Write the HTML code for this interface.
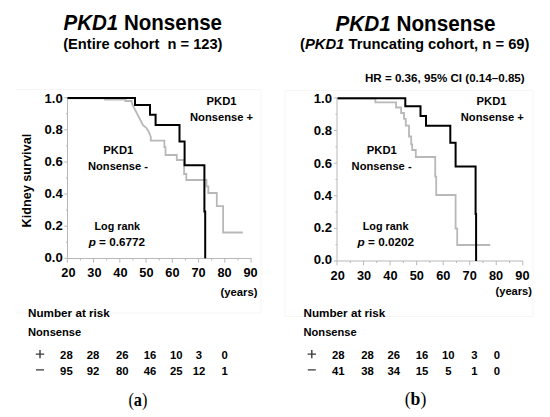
<!DOCTYPE html>
<html><head><meta charset="utf-8"><style>html,body{margin:0;padding:0;width:550px;height:417px;overflow:hidden;background:#fff}</style></head><body>
<svg width="550" height="417" viewBox="0 0 550 417" style="position:absolute;left:0;top:0">
<rect width="550" height="417" fill="#fff"/>
<path d="M15.5,89.5 H261 V313 H15.5" fill="none" stroke="#f6f6f6" stroke-width="1"/>
<path d="M285,316.5 V90.5 H533 V316.5 H285" fill="none" stroke="#f6f6f6" stroke-width="1"/>
<text x="63.5" y="30" font-size="21.6" font-family="Liberation Sans" font-weight="bold" fill="#000" textLength="158.5" lengthAdjust="spacingAndGlyphs"><tspan font-style="italic">PKD1</tspan> Nonsense</text>
<text x="63.2" y="48.9" font-size="15" font-family="Liberation Sans" font-weight="bold" fill="#000" textLength="159.3" lengthAdjust="spacingAndGlyphs" style="white-space:pre">(Entire cohort  n = 123)</text>
<path d="M67.5,97.7 V258.5 H251.5" fill="none" stroke="#b8b8b8" stroke-width="1"/>
<path d="M64.3,258.30 H67.5 M66.0,242.24 H67.5 M64.3,226.18 H67.5 M66.0,210.12 H67.5 M64.3,194.06 H67.5 M66.0,178.00 H67.5 M64.3,161.94 H67.5 M66.0,145.88 H67.5 M64.3,129.82 H67.5 M66.0,113.76 H67.5 M64.3,97.70 H67.5 M67.30,258.5 V262.8 M80.43,258.5 V260.5 M93.56,258.5 V262.8 M106.69,258.5 V260.5 M119.81,258.5 V262.8 M132.94,258.5 V260.5 M146.07,258.5 V262.8 M159.20,258.5 V260.5 M172.33,258.5 V262.8 M185.46,258.5 V260.5 M198.59,258.5 V262.8 M211.71,258.5 V260.5 M224.84,258.5 V262.8 M237.97,258.5 V260.5 M251.10,258.5 V262.8 " fill="none" stroke="#b8b8b8" stroke-width="1"/>
<path d="M67.5,98.4 H105 V99.6 H125.5 V101 H131.6 L132.2,104.2 L143,125.2 L146.3,127.8 L148.8,132 L150.8,137 V140.7 H164.4 V147 H165.5 V155 H176.8 V160 H184.1 V174 H186.3 V180 H206.5 V186.4 H208.3 V193 H216.8 V206.1 H223.1 V232.5 H242.8" fill="none" stroke="#b8b8b8" stroke-width="1.8"/>
<path d="M67.5,98 H135 V105 H150 V114.7 H155.6 V124.9 H179.5 V141.5 H184.6 V165.2 H204.4 V211.6 H205.2 V258.3" fill="none" stroke="#000" stroke-width="2"/>
<text x="62.8" y="102.5" font-size="12.3" text-anchor="end" font-weight="bold" font-style="normal" font-family="Liberation Sans" fill="#000" textLength="18.3" lengthAdjust="spacingAndGlyphs">1.0</text>
<text x="62.8" y="134.4" font-size="12.3" text-anchor="end" font-weight="bold" font-style="normal" font-family="Liberation Sans" fill="#000" textLength="18.3" lengthAdjust="spacingAndGlyphs">0.8</text>
<text x="62.8" y="166.3" font-size="12.3" text-anchor="end" font-weight="bold" font-style="normal" font-family="Liberation Sans" fill="#000" textLength="18.3" lengthAdjust="spacingAndGlyphs">0.6</text>
<text x="62.8" y="198.2" font-size="12.3" text-anchor="end" font-weight="bold" font-style="normal" font-family="Liberation Sans" fill="#000" textLength="18.3" lengthAdjust="spacingAndGlyphs">0.4</text>
<text x="62.8" y="230.1" font-size="12.3" text-anchor="end" font-weight="bold" font-style="normal" font-family="Liberation Sans" fill="#000" textLength="18.3" lengthAdjust="spacingAndGlyphs">0.2</text>
<text x="62.8" y="262.0" font-size="12.3" text-anchor="end" font-weight="bold" font-style="normal" font-family="Liberation Sans" fill="#000" textLength="18.3" lengthAdjust="spacingAndGlyphs">0.0</text>
<text x="68.4" y="276.7" font-size="12" text-anchor="middle" font-weight="bold" font-style="normal" font-family="Liberation Sans" fill="#000" textLength="14.2" lengthAdjust="spacingAndGlyphs">20</text>
<text x="94.42" y="276.7" font-size="12" text-anchor="middle" font-weight="bold" font-style="normal" font-family="Liberation Sans" fill="#000" textLength="14.2" lengthAdjust="spacingAndGlyphs">30</text>
<text x="120.44" y="276.7" font-size="12" text-anchor="middle" font-weight="bold" font-style="normal" font-family="Liberation Sans" fill="#000" textLength="14.2" lengthAdjust="spacingAndGlyphs">40</text>
<text x="146.46" y="276.7" font-size="12" text-anchor="middle" font-weight="bold" font-style="normal" font-family="Liberation Sans" fill="#000" textLength="14.2" lengthAdjust="spacingAndGlyphs">50</text>
<text x="172.48" y="276.7" font-size="12" text-anchor="middle" font-weight="bold" font-style="normal" font-family="Liberation Sans" fill="#000" textLength="14.2" lengthAdjust="spacingAndGlyphs">60</text>
<text x="198.5" y="276.7" font-size="12" text-anchor="middle" font-weight="bold" font-style="normal" font-family="Liberation Sans" fill="#000" textLength="14.2" lengthAdjust="spacingAndGlyphs">70</text>
<text x="224.52" y="276.7" font-size="12" text-anchor="middle" font-weight="bold" font-style="normal" font-family="Liberation Sans" fill="#000" textLength="14.2" lengthAdjust="spacingAndGlyphs">80</text>
<text x="250.54" y="276.7" font-size="12" text-anchor="middle" font-weight="bold" font-style="normal" font-family="Liberation Sans" fill="#000" textLength="14.2" lengthAdjust="spacingAndGlyphs">90</text>
<text transform="translate(30.6,180.6) rotate(-90)" x="0" y="0" font-size="13" text-anchor="middle" font-family="Liberation Sans" font-weight="bold" fill="#000" textLength="93.6" lengthAdjust="spacingAndGlyphs">Kidney survival</text>
<text x="221.6" y="105.2" font-size="11.6" text-anchor="middle" font-weight="bold" font-style="normal" font-family="Liberation Sans" fill="#000" textLength="30" lengthAdjust="spacingAndGlyphs">PKD1</text>
<text x="190" y="120.6" font-size="11.6" text-anchor="start" font-weight="bold" font-style="normal" font-family="Liberation Sans" fill="#000" textLength="63" lengthAdjust="spacingAndGlyphs">Nonsense +</text>
<text x="118.3" y="153.9" font-size="11.6" text-anchor="middle" font-weight="bold" font-style="normal" font-family="Liberation Sans" fill="#000" textLength="30" lengthAdjust="spacingAndGlyphs">PKD1</text>
<text x="88" y="170" font-size="11.6" text-anchor="start" font-weight="bold" font-style="normal" font-family="Liberation Sans" fill="#000" textLength="60" lengthAdjust="spacingAndGlyphs">Nonsense -</text>
<text x="94.5" y="229.6" font-size="11.5" text-anchor="start" font-weight="bold" font-style="normal" font-family="Liberation Sans" fill="#000" textLength="45.5" lengthAdjust="spacingAndGlyphs">Log rank</text>
<text x="88.7" y="245.5" font-size="11.5" font-family="Liberation Sans" font-weight="bold" fill="#000" textLength="56.3" lengthAdjust="spacingAndGlyphs" style="white-space:pre"><tspan font-style="italic">p</tspan> = 0.6772</text>
<text x="220.5" y="295.5" font-size="11" text-anchor="start" font-weight="bold" font-style="normal" font-family="Liberation Sans" fill="#000" textLength="37" lengthAdjust="spacingAndGlyphs">(years)</text>
<text x="28" y="317.3" font-size="11.8" text-anchor="start" font-weight="bold" font-style="normal" font-family="Liberation Sans" fill="#000" textLength="81.8" lengthAdjust="spacingAndGlyphs">Number at risk</text>
<text x="28" y="335.7" font-size="11.8" text-anchor="start" font-weight="bold" font-style="normal" font-family="Liberation Sans" fill="#000" textLength="53.2" lengthAdjust="spacingAndGlyphs">Nonsense</text>
<path d="M35.8,354.1 H44.2 M40,349.90000000000003 V358.3 M36,369.9 H44" stroke="#3a3a3a" stroke-width="1.4" fill="none"/>
<text x="66.4" y="359.3" font-size="11.3" text-anchor="middle" font-weight="bold" font-style="normal" font-family="Liberation Sans" fill="#000">28</text>
<text x="66.4" y="374.8" font-size="11.3" text-anchor="middle" font-weight="bold" font-style="normal" font-family="Liberation Sans" fill="#000">95</text>
<text x="93" y="359.3" font-size="11.3" text-anchor="middle" font-weight="bold" font-style="normal" font-family="Liberation Sans" fill="#000">28</text>
<text x="93" y="374.8" font-size="11.3" text-anchor="middle" font-weight="bold" font-style="normal" font-family="Liberation Sans" fill="#000">92</text>
<text x="122.3" y="359.3" font-size="11.3" text-anchor="middle" font-weight="bold" font-style="normal" font-family="Liberation Sans" fill="#000">26</text>
<text x="122.3" y="374.8" font-size="11.3" text-anchor="middle" font-weight="bold" font-style="normal" font-family="Liberation Sans" fill="#000">80</text>
<text x="150" y="359.3" font-size="11.3" text-anchor="middle" font-weight="bold" font-style="normal" font-family="Liberation Sans" fill="#000">16</text>
<text x="150" y="374.8" font-size="11.3" text-anchor="middle" font-weight="bold" font-style="normal" font-family="Liberation Sans" fill="#000">46</text>
<text x="176.3" y="359.3" font-size="11.3" text-anchor="middle" font-weight="bold" font-style="normal" font-family="Liberation Sans" fill="#000">10</text>
<text x="176.3" y="374.8" font-size="11.3" text-anchor="middle" font-weight="bold" font-style="normal" font-family="Liberation Sans" fill="#000">25</text>
<text x="199" y="359.3" font-size="11.3" text-anchor="middle" font-weight="bold" font-style="normal" font-family="Liberation Sans" fill="#000">3</text>
<text x="199" y="374.8" font-size="11.3" text-anchor="middle" font-weight="bold" font-style="normal" font-family="Liberation Sans" fill="#000">12</text>
<text x="224.7" y="359.3" font-size="11.3" text-anchor="middle" font-weight="bold" font-style="normal" font-family="Liberation Sans" fill="#000">0</text>
<text x="224.7" y="374.8" font-size="11.3" text-anchor="middle" font-weight="bold" font-style="normal" font-family="Liberation Sans" fill="#000">1</text>
<text x="137.9" y="405.5" font-size="18" text-anchor="middle" font-family="Liberation Serif" fill="#000" textLength="19" lengthAdjust="spacingAndGlyphs">(<tspan font-weight="bold">a</tspan>)</text>
<text x="335.5" y="30.8" font-size="21.6" font-family="Liberation Sans" font-weight="bold" fill="#000" textLength="160" lengthAdjust="spacingAndGlyphs"><tspan font-style="italic">PKD1</tspan> Nonsense</text>
<text x="300" y="49.3" font-size="15" font-family="Liberation Sans" font-weight="bold" fill="#000" textLength="229.5" lengthAdjust="spacingAndGlyphs">(<tspan font-style="italic">PKD1</tspan> Truncating cohort, n = 69)</text>
<text x="364.9" y="82.4" font-size="11.8" text-anchor="start" font-weight="bold" font-style="normal" font-family="Liberation Sans" fill="#000" textLength="159.8" lengthAdjust="spacingAndGlyphs">HR = 0.36, 95% CI (0.14–0.85)</text>
<path d="M337,97.9 V261 H523" fill="none" stroke="#b8b8b8" stroke-width="1"/>
<path d="M333.8,261.00 H337 M335.5,244.69 H337 M333.8,228.38 H337 M335.5,212.07 H337 M333.8,195.76 H337 M335.5,179.45 H337 M333.8,163.14 H337 M335.5,146.83 H337 M333.8,130.52 H337 M335.5,114.21 H337 M333.8,97.90 H337 M337.00,261 V265.3 M350.27,261 V263 M363.54,261 V265.3 M376.81,261 V263 M390.09,261 V265.3 M403.36,261 V263 M416.63,261 V265.3 M429.90,261 V263 M443.17,261 V265.3 M456.44,261 V263 M469.71,261 V265.3 M482.99,261 V263 M496.26,261 V265.3 M509.53,261 V263 M522.80,261 V265.3 " fill="none" stroke="#b8b8b8" stroke-width="1"/>
<path d="M337.5,98.6 H375.4 V102.4 H396.1 V107.5 H401.1 V113 H404 V118.9 H405.8 V125.6 H409 V136.5 H411.2 V144.3 H412.2 V150 H415.8 V157 H435.2 V176.7 H436.2 V195 H455.6 V228.5 H457.2 V245 H490.2" fill="none" stroke="#b8b8b8" stroke-width="1.8"/>
<path d="M337.5,98.2 H405.3 V106.2 H420.5 V116 H426 V125.8 H450.3 V142.8 H455.6 V166.6 H475.6 V214 H476.1 V261" fill="none" stroke="#000" stroke-width="2"/>
<text x="332" y="103.0" font-size="12.3" text-anchor="end" font-weight="bold" font-style="normal" font-family="Liberation Sans" fill="#000" textLength="18.3" lengthAdjust="spacingAndGlyphs">1.0</text>
<text x="332" y="135.26" font-size="12.3" text-anchor="end" font-weight="bold" font-style="normal" font-family="Liberation Sans" fill="#000" textLength="18.3" lengthAdjust="spacingAndGlyphs">0.8</text>
<text x="332" y="167.52" font-size="12.3" text-anchor="end" font-weight="bold" font-style="normal" font-family="Liberation Sans" fill="#000" textLength="18.3" lengthAdjust="spacingAndGlyphs">0.6</text>
<text x="332" y="199.78" font-size="12.3" text-anchor="end" font-weight="bold" font-style="normal" font-family="Liberation Sans" fill="#000" textLength="18.3" lengthAdjust="spacingAndGlyphs">0.4</text>
<text x="332" y="232.04" font-size="12.3" text-anchor="end" font-weight="bold" font-style="normal" font-family="Liberation Sans" fill="#000" textLength="18.3" lengthAdjust="spacingAndGlyphs">0.2</text>
<text x="332" y="264.3" font-size="12.3" text-anchor="end" font-weight="bold" font-style="normal" font-family="Liberation Sans" fill="#000" textLength="18.3" lengthAdjust="spacingAndGlyphs">0.0</text>
<text x="337.65" y="279.5" font-size="12" text-anchor="middle" font-weight="bold" font-style="normal" font-family="Liberation Sans" fill="#000" textLength="14.2" lengthAdjust="spacingAndGlyphs">20</text>
<text x="364.05" y="279.5" font-size="12" text-anchor="middle" font-weight="bold" font-style="normal" font-family="Liberation Sans" fill="#000" textLength="14.2" lengthAdjust="spacingAndGlyphs">30</text>
<text x="390.45" y="279.5" font-size="12" text-anchor="middle" font-weight="bold" font-style="normal" font-family="Liberation Sans" fill="#000" textLength="14.2" lengthAdjust="spacingAndGlyphs">40</text>
<text x="416.85" y="279.5" font-size="12" text-anchor="middle" font-weight="bold" font-style="normal" font-family="Liberation Sans" fill="#000" textLength="14.2" lengthAdjust="spacingAndGlyphs">50</text>
<text x="443.25" y="279.5" font-size="12" text-anchor="middle" font-weight="bold" font-style="normal" font-family="Liberation Sans" fill="#000" textLength="14.2" lengthAdjust="spacingAndGlyphs">60</text>
<text x="469.65" y="279.5" font-size="12" text-anchor="middle" font-weight="bold" font-style="normal" font-family="Liberation Sans" fill="#000" textLength="14.2" lengthAdjust="spacingAndGlyphs">70</text>
<text x="496.05" y="279.5" font-size="12" text-anchor="middle" font-weight="bold" font-style="normal" font-family="Liberation Sans" fill="#000" textLength="14.2" lengthAdjust="spacingAndGlyphs">80</text>
<text x="522.45" y="279.5" font-size="12" text-anchor="middle" font-weight="bold" font-style="normal" font-family="Liberation Sans" fill="#000" textLength="14.2" lengthAdjust="spacingAndGlyphs">90</text>
<text x="491.6" y="105.4" font-size="11.6" text-anchor="middle" font-weight="bold" font-style="normal" font-family="Liberation Sans" fill="#000" textLength="30" lengthAdjust="spacingAndGlyphs">PKD1</text>
<text x="460.8" y="121.1" font-size="11.6" text-anchor="start" font-weight="bold" font-style="normal" font-family="Liberation Sans" fill="#000" textLength="63" lengthAdjust="spacingAndGlyphs">Nonsense +</text>
<text x="381.8" y="153.9" font-size="11.6" text-anchor="middle" font-weight="bold" font-style="normal" font-family="Liberation Sans" fill="#000" textLength="30" lengthAdjust="spacingAndGlyphs">PKD1</text>
<text x="351.6" y="170.1" font-size="11.6" text-anchor="start" font-weight="bold" font-style="normal" font-family="Liberation Sans" fill="#000" textLength="60" lengthAdjust="spacingAndGlyphs">Nonsense -</text>
<text x="362.7" y="230" font-size="11.5" text-anchor="start" font-weight="bold" font-style="normal" font-family="Liberation Sans" fill="#000" textLength="45.8" lengthAdjust="spacingAndGlyphs">Log rank</text>
<text x="357.6" y="245.5" font-size="11.5" font-family="Liberation Sans" font-weight="bold" fill="#000" textLength="56.4" lengthAdjust="spacingAndGlyphs"><tspan font-style="italic">p</tspan> = 0.0202</text>
<text x="495.5" y="295.3" font-size="11" text-anchor="start" font-weight="bold" font-style="normal" font-family="Liberation Sans" fill="#000" textLength="36.5" lengthAdjust="spacingAndGlyphs">(years)</text>
<text x="303.5" y="317.3" font-size="11.8" text-anchor="start" font-weight="bold" font-style="normal" font-family="Liberation Sans" fill="#000" textLength="81.8" lengthAdjust="spacingAndGlyphs">Number at risk</text>
<text x="303.5" y="335.7" font-size="11.8" text-anchor="start" font-weight="bold" font-style="normal" font-family="Liberation Sans" fill="#000" textLength="53.2" lengthAdjust="spacingAndGlyphs">Nonsense</text>
<path d="M307.6,354.1 H316.0 M311.8,349.90000000000003 V358.3 M307.8,369.9 H315.8" stroke="#3a3a3a" stroke-width="1.4" fill="none"/>
<text x="338.2" y="359.3" font-size="11.3" text-anchor="middle" font-weight="bold" font-style="normal" font-family="Liberation Sans" fill="#000">28</text>
<text x="338.2" y="374.8" font-size="11.3" text-anchor="middle" font-weight="bold" font-style="normal" font-family="Liberation Sans" fill="#000">41</text>
<text x="367.5" y="359.3" font-size="11.3" text-anchor="middle" font-weight="bold" font-style="normal" font-family="Liberation Sans" fill="#000">28</text>
<text x="367.5" y="374.8" font-size="11.3" text-anchor="middle" font-weight="bold" font-style="normal" font-family="Liberation Sans" fill="#000">38</text>
<text x="393.8" y="359.3" font-size="11.3" text-anchor="middle" font-weight="bold" font-style="normal" font-family="Liberation Sans" fill="#000">26</text>
<text x="393.8" y="374.8" font-size="11.3" text-anchor="middle" font-weight="bold" font-style="normal" font-family="Liberation Sans" fill="#000">34</text>
<text x="422" y="359.3" font-size="11.3" text-anchor="middle" font-weight="bold" font-style="normal" font-family="Liberation Sans" fill="#000">16</text>
<text x="422" y="374.8" font-size="11.3" text-anchor="middle" font-weight="bold" font-style="normal" font-family="Liberation Sans" fill="#000">15</text>
<text x="448.3" y="359.3" font-size="11.3" text-anchor="middle" font-weight="bold" font-style="normal" font-family="Liberation Sans" fill="#000">10</text>
<text x="448.3" y="374.8" font-size="11.3" text-anchor="middle" font-weight="bold" font-style="normal" font-family="Liberation Sans" fill="#000">5</text>
<text x="474.4" y="359.3" font-size="11.3" text-anchor="middle" font-weight="bold" font-style="normal" font-family="Liberation Sans" fill="#000">3</text>
<text x="474.4" y="374.8" font-size="11.3" text-anchor="middle" font-weight="bold" font-style="normal" font-family="Liberation Sans" fill="#000">1</text>
<text x="496.9" y="359.3" font-size="11.3" text-anchor="middle" font-weight="bold" font-style="normal" font-family="Liberation Sans" fill="#000">0</text>
<text x="496.9" y="374.8" font-size="11.3" text-anchor="middle" font-weight="bold" font-style="normal" font-family="Liberation Sans" fill="#000">0</text>
<text x="415.5" y="405" font-size="17.9" text-anchor="middle" font-family="Liberation Serif" fill="#000" textLength="21.6" lengthAdjust="spacingAndGlyphs">(<tspan font-weight="bold">b</tspan>)</text>
</svg>
</body></html>
